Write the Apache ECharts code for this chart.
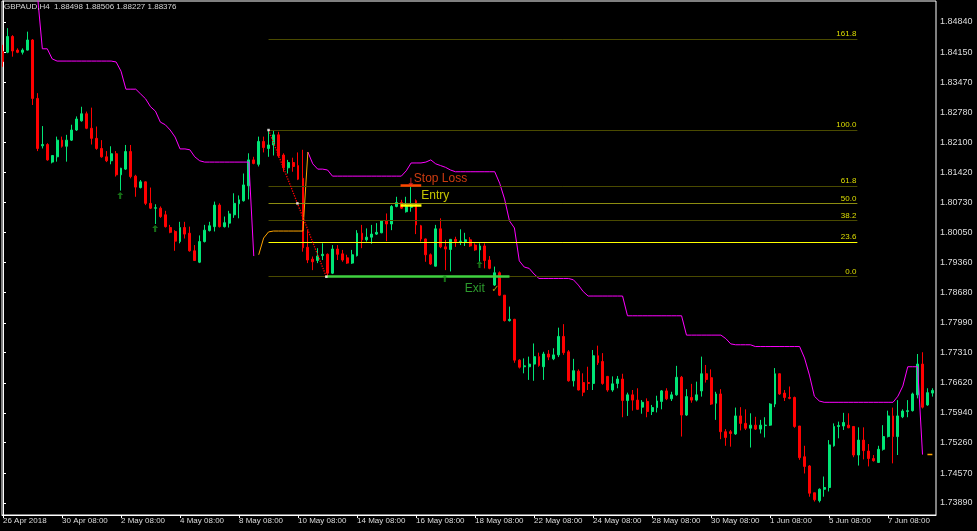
<!DOCTYPE html>
<html><head><meta charset="utf-8">
<script src="https://cdn.jsdelivr.net/npm/echarts@6/dist/echarts.min.js"></script>
<style>html,body{margin:0;padding:0;background:#000;}#chart{width:977px;height:531px;}</style>
</head><body><div id="chart"></div>
<script>
// ---- DATA (GBPAUD H4, bar index 0 = 26 Apr 2018 08:00) ----
const opens = [
1.8417,1.8415,1.8451,1.8420,1.8415,1.8420,1.8443,1.8310,1.8202,1.8205,
1.8165,1.8177,1.8215,1.8201,1.8215,1.8238,1.8259,1.8275,1.8242,1.8219,
1.8196,1.8177,1.8168,1.8184,1.8136,1.8149,1.8189,1.8133,1.8107,1.8120,
1.8071,1.8060,1.8060,1.8045,1.8016,1.8007,1.7984,1.8016,1.8003,1.7963,
1.7937,1.7984,1.8009,1.8018,1.8067,1.8018,1.8026,1.8045,1.8070,1.8077,
1.8111,1.8170,1.8160,1.8212,1.8196,1.8204,1.8227,1.8181,1.8152,1.8164,
1.8157,1.8128,1.7971,1.7944,1.7941,1.7952,1.7955,1.7912,1.7967,1.7956,
1.7947,1.7935,1.7952,1.8003,1.7988,1.7994,1.8001,1.8004,1.8031,1.8024,
1.8064,1.8073,1.8052,1.8062,1.8077,1.8020,1.7990,1.7954,1.7928,1.8013,
1.7972,1.7966,1.7989,1.7984,1.7984,1.7988,1.7976,1.7965,1.7974,1.7942,
1.7885,1.7913,1.7862,1.7804,1.7807,1.7714,1.7699,1.7699,1.7705,1.7722,
1.7699,1.7728,1.7717,1.7726,1.7768,1.7733,1.7667,1.7689,1.7663,1.7663,
1.7661,1.7724,1.7711,1.7677,1.7646,1.7661,1.7671,1.7622,1.7635,1.7623,
1.7607,1.7620,1.7597,1.7606,1.7620,1.7644,1.7626,1.7635,1.7675,1.7589,
1.7629,1.7623,1.7644,1.7683,1.7674,1.7616,1.7637,1.7551,1.7551,1.7546,
1.7587,1.7570,1.7559,1.7566,1.7557,1.7565,1.7566,1.7614,1.7683,1.7639,
1.7629,1.7629,1.7564,1.7494,1.7473,1.7412,1.7394,1.7420,1.7424,1.7519,
1.7563,1.7564,1.7566,1.7563,1.7498,1.7532,1.7507,1.7490,1.7481,1.7511,
1.7540,1.7587,1.7540,1.7585,1.7597,1.7599,1.7635,1.7705,1.7612,1.7639];
const highs = [
1.8432,1.8470,1.8454,1.8424,1.8424,1.8462,1.8445,1.8322,1.8247,1.8208,
1.8180,1.8223,1.8223,1.8227,1.8250,1.8269,1.8291,1.8280,1.8289,1.8246,
1.8215,1.8190,1.8201,1.8190,1.8152,1.8204,1.8204,1.8136,1.8124,1.8121,
1.8107,1.8069,1.8064,1.8054,1.8022,1.8010,1.8029,1.8029,1.8018,1.7976,
1.7998,1.8022,1.8029,1.8075,1.8071,1.8041,1.8054,1.8094,1.8089,1.8139,
1.8185,1.8177,1.8223,1.8223,1.8238,1.8236,1.8234,1.8185,1.8170,1.8175,
1.8187,1.8193,1.8010,1.7950,1.7969,1.7980,1.7957,1.7976,1.7976,1.7965,
1.7954,1.7965,1.8010,1.8022,1.8014,1.8022,1.8026,1.8033,1.8048,1.8067,
1.8086,1.8079,1.8086,1.8111,1.8080,1.8022,1.7991,1.7957,1.8022,1.8037,
1.7988,1.7990,1.7995,1.8012,1.8004,1.7994,1.7980,1.7980,1.7980,1.7951,
1.7927,1.7916,1.7862,1.7836,1.7808,1.7716,1.7718,1.7722,1.7752,1.7731,
1.7733,1.7737,1.7741,1.7788,1.7796,1.7737,1.7717,1.7693,1.7684,1.7699,
1.7737,1.7747,1.7730,1.7678,1.7677,1.7678,1.7683,1.7640,1.7646,1.7650,
1.7623,1.7627,1.7612,1.7633,1.7646,1.7650,1.7642,1.7701,1.7678,1.7648,
1.7660,1.7665,1.7722,1.7703,1.7693,1.7642,1.7648,1.7557,1.7555,1.7606,
1.7607,1.7602,1.7593,1.7585,1.7578,1.7584,1.7616,1.7696,1.7684,1.7646,
1.7654,1.7631,1.7564,1.7519,1.7475,1.7412,1.7422,1.7449,1.7532,1.7570,
1.7574,1.7594,1.7593,1.7564,1.7561,1.7561,1.7523,1.7498,1.7519,1.7566,
1.7599,1.7606,1.7623,1.7602,1.7623,1.7640,1.7728,1.7732,1.7650,1.7650];
const lows = [
1.8382,1.8413,1.8405,1.8413,1.8410,1.8419,1.8295,1.8190,1.8196,1.8168,
1.8162,1.8166,1.8198,1.8166,1.8213,1.8236,1.8257,1.8240,1.8205,1.8193,
1.8175,1.8165,1.8160,1.8132,1.8100,1.8147,1.8128,1.8086,1.8105,1.8067,
1.8058,1.8024,1.8038,1.8016,1.8003,1.7963,1.7980,1.7991,1.7961,1.7940,
1.7935,1.7982,1.8007,1.8007,1.8016,1.8016,1.8016,1.8038,1.8037,1.8075,
1.8080,1.8160,1.8155,1.8187,1.8177,1.8180,1.8175,1.8143,1.8139,1.8143,
1.8124,1.7961,1.7935,1.7919,1.7935,1.7942,1.7904,1.7910,1.7942,1.7938,
1.7933,1.7933,1.7950,1.7969,1.7984,1.7979,1.7999,1.8003,1.7985,1.8010,
1.8062,1.8058,1.8050,1.8052,1.8001,1.7984,1.7938,1.7931,1.7927,1.7969,
1.7919,1.7916,1.7972,1.7976,1.7974,1.7972,1.7963,1.7938,1.7923,1.7921,
1.7883,1.7860,1.7802,1.7802,1.7708,1.7695,1.7684,1.7669,1.7667,1.7699,
1.7669,1.7714,1.7714,1.7721,1.7726,1.7665,1.7654,1.7645,1.7632,1.7646,
1.7646,1.7703,1.7658,1.7642,1.7642,1.7650,1.7584,1.7587,1.7599,1.7601,
1.7592,1.7584,1.7589,1.7595,1.7602,1.7623,1.7621,1.7633,1.7540,1.7587,
1.7617,1.7620,1.7631,1.7663,1.7612,1.7578,1.7534,1.7519,1.7517,1.7544,
1.7554,1.7555,1.7515,1.7555,1.7547,1.7538,1.7564,1.7607,1.7635,1.7621,
1.7625,1.7560,1.7487,1.7456,1.7403,1.7392,1.7390,1.7403,1.7415,1.7517,
1.7536,1.7555,1.7559,1.7493,1.7474,1.7488,1.7472,1.7483,1.7481,1.7508,
1.7538,1.7479,1.7498,1.7582,1.7584,1.7597,1.7627,1.7604,1.7610,1.7631];
const closes = [
1.8394,1.8451,1.8418,1.8415,1.8420,1.8443,1.8310,1.8196,1.8205,1.8170,
1.8180,1.8215,1.8201,1.8215,1.8238,1.8263,1.8275,1.8242,1.8219,1.8196,
1.8177,1.8168,1.8184,1.8136,1.8151,1.8189,1.8132,1.8108,1.8120,1.8071,
1.8060,1.8061,1.8041,1.8018,1.8005,1.7985,1.8016,1.8001,1.7963,1.7941,
1.7984,1.8010,1.8020,1.8067,1.8018,1.8027,1.8047,1.8071,1.8079,1.8113,
1.8170,1.8162,1.8212,1.8198,1.8204,1.8227,1.8179,1.8152,1.8164,1.8155,
1.8126,1.7970,1.7942,1.7938,1.7951,1.7955,1.7912,1.7967,1.7955,1.7942,
1.7935,1.7954,1.8003,1.7988,1.7994,1.8001,1.8005,1.8031,1.8024,1.8064,
1.8073,1.8060,1.8064,1.8067,1.8022,1.7990,1.7954,1.7933,1.8013,1.7972,
1.7967,1.7989,1.7984,1.7985,1.7988,1.7974,1.7965,1.7974,1.7941,1.7923,
1.7913,1.7862,1.7804,1.7807,1.7714,1.7698,1.7701,1.7705,1.7722,1.7702,
1.7728,1.7721,1.7726,1.7768,1.7731,1.7667,1.7690,1.7646,1.7641,1.7661,
1.7724,1.7708,1.7661,1.7646,1.7660,1.7671,1.7622,1.7635,1.7623,1.7602,
1.7618,1.7597,1.7606,1.7621,1.7644,1.7626,1.7635,1.7675,1.7589,1.7631,
1.7623,1.7635,1.7683,1.7670,1.7614,1.7637,1.7551,1.7538,1.7547,1.7587,
1.7570,1.7559,1.7566,1.7557,1.7566,1.7566,1.7614,1.7683,1.7637,1.7629,
1.7627,1.7563,1.7492,1.7472,1.7411,1.7396,1.7420,1.7424,1.7521,1.7563,
1.7565,1.7572,1.7560,1.7498,1.7532,1.7508,1.7490,1.7485,1.7511,1.7540,
1.7587,1.7540,1.7587,1.7598,1.7599,1.7637,1.7705,1.7607,1.7640,1.7645];
// trailing stop (resistance, magenta), one value per bar
const resistanceLine = [
null,null,null,null,null,null,null,1.8546,1.8423,1.8423,
1.8400,1.8395,1.8395,1.8395,1.8395,1.8395,1.8395,1.8395,1.8395,1.8395,
1.8395,1.8395,1.8395,1.8393,1.8372,1.8331,1.8331,1.8331,1.8320,1.8309,
1.8291,1.8281,1.8256,1.8250,1.8238,1.8222,1.8195,1.8195,1.8193,1.8177,
1.8168,1.8165,1.8165,1.8165,1.8165,1.8165,1.8165,1.8165,1.8165,1.8165,
1.8165,1.7951,null,null,null,null,null,null,null,null,
null,null,1.8188,1.8161,1.8149,1.8149,1.8147,1.8133,1.8133,1.8133,
1.8133,1.8133,1.8133,1.8133,1.8133,1.8133,1.8133,1.8133,1.8133,1.8133,
1.8133,1.8133,1.8145,1.8163,1.8163,1.8163,1.8165,1.8170,1.8161,1.8157,
1.8153,1.8147,1.8143,1.8143,1.8143,1.8143,1.8143,1.8143,1.8143,1.8143,
1.8143,1.8117,1.8081,1.8031,1.8015,1.7940,1.7926,1.7923,1.7910,1.7900,
1.7900,1.7900,1.7900,1.7900,1.7900,1.7900,1.7897,1.7885,1.7870,1.7860,
1.7860,1.7860,1.7860,1.7860,1.7860,1.7860,1.7860,1.7815,1.7815,1.7815,
1.7815,1.7815,1.7815,1.7815,1.7815,1.7815,1.7815,1.7815,1.7815,1.7771,
1.7771,1.7771,1.7771,1.7771,1.7771,1.7771,1.7771,1.7763,1.7751,1.7749,
1.7749,1.7749,1.7749,1.7745,1.7745,1.7745,1.7745,1.7745,1.7745,1.7745,
1.7745,1.7745,1.7745,1.7719,1.7680,1.7632,1.7621,1.7618,1.7618,1.7618,
1.7618,1.7618,1.7618,1.7618,1.7618,1.7618,1.7618,1.7618,1.7618,1.7618,
1.7618,1.7618,1.7632,1.7655,1.7699,1.7699,1.7699,1.7499,null,null];
// trailing stop (support, orange): [bar, price]
const supportSegA = [[52,1.7954],[53,1.7992],[54,1.8006],[55,1.8008],[56,1.8008],[57,1.8008],[58,1.8008],[59,1.8008],[60,1.8008],[61,1.8008],[62,1.8188]];
const supportSegB = [[188,1.7499],[189,1.7499]];
// axes
const tickBars = [0,12,24,36,48,60,72,84,96,108,120,132,144,156,168,180];
const tickLabels = ['26 Apr 2018','30 Apr 08:00','2 May 08:00','4 May 08:00','8 May 08:00','10 May 08:00','14 May 08:00','16 May 08:00','18 May 08:00','22 May 08:00','24 May 08:00','28 May 08:00','30 May 08:00','1 Jun 08:00','5 Jun 08:00','7 Jun 08:00'];
const priceTicks = [1.84840,1.84150,1.83470,1.82780,1.82100,1.81420,1.80730,1.80050,1.79360,1.78680,1.77990,1.77310,1.76620,1.75940,1.75260,1.74570,1.73890];
// fibonacci retracement
const fibLabels = ['0.0','23.6','38.2','50.0','61.8','100.0','161.8'];
const fibPrices = [1.7904,1.7983,1.8032,1.8071,1.8110,1.8238,1.8445];
const fibBars = [54, 173.75];
const fibAnchors = [[54,1.8238],[59.875,1.8071],[65.75,1.7904]];
// trade objects
const tradeNames = ['Stop Loss','Entry','Exit'];
const tradePrices = [1.8112, 1.8066, 1.7904];
const tradeBars = [[80.85,85.05],[80.85,85.1],[65.75,103]];
const tradeLabelAt = [[83.55,1.8127],[85.06,1.8088],[93.9,1.7877]];
const upArrows = [[23.83,1.8089],[30.94,1.8014],[89.85,1.7900],[96.9,1.7932]];
const downArrows = [[82.95,1.8120]];
const checkMarks = [[99.3,1.7874]];
const titleText = 'GBPAUD,H4  1.88498 1.88506 1.88227 1.88376';

// ---- CHART ----
const FONT = 'Liberation Sans, Arial, sans-serif';
const fibColors = ['#4a4a00','#ffff00','#4a4a00','#8c8c10','#4a4a00','#4a4a00','#4a4a00'];
const tradeColors = ['#ff4500','#ffff00','#3fd13f'];
const tradeTextColors = ['#ff4a14','#f4f400','#38c038'];

const candleData = opens.map((o, i) => [i, o, closes[i], lows[i], highs[i]]);
const chart = echarts.init(document.getElementById('chart'), null, {renderer: 'canvas'});

const fibMarks = fibPrices.map((p, k) => [
  {coord: [fibBars[0], p], lineStyle: {color: fibColors[k], width: 1, type: 'solid'},
   label: {show: true, position: 'insideEndTop', distance: 1, formatter: fibLabels[k], color: '#dede00', fontSize: 8, fontFamily: FONT, padding: 0}},
  {coord: [fibBars[1], p]}
]);
const diagMark = [[
  {coord: fibAnchors[0], lineStyle: {color: '#ff0000', width: 1.3, type: 'dotted'}, label: {show: false}},
  {coord: fibAnchors[2]}
]];
const tradeMarks = tradePrices.map((p, k) => [
  {coord: [tradeBars[k][0], p], lineStyle: {color: tradeColors[k], width: 2.5, type: 'solid'}, label: {show: false}},
  {coord: [tradeBars[k][1], p]}
]);

const option = {
  backgroundColor: '#000000',
  animation: false,
  title: {text: titleText, left: 4, top: 3, padding: 0,
    textStyle: {color: '#d4d4d4', fontSize: 8, fontWeight: 'normal', fontFamily: FONT}},
  grid: {left: 1, right: 41, top: 1, bottom: 16, show: true, borderColor: '#ffffff', borderWidth: 1, backgroundColor: '#000'},
  xAxis: {
    type: 'value', min: -0.2, max: 189.74, splitLine: {show: false},
    axisLine: {show: true, onZero: false, lineStyle: {color: '#ffffff', width: 1}},
    axisTick: {show: true, customValues: tickBars, length: 3, lineStyle: {color: '#ffffff'}},
    axisLabel: {customValues: tickBars, formatter: v => tickLabels[tickBars.indexOf(v)],
      align: 'left', color: '#dcdcdc', fontSize: 8, fontFamily: FONT, margin: 2}
  },
  yAxis: {
    type: 'value', position: 'right', min: 1.73614, max: 1.85318, scale: true,
    splitLine: {show: false},
    axisLine: {show: true, lineStyle: {color: '#ffffff', width: 1}},
    axisTick: {show: true, customValues: priceTicks, length: 3, lineStyle: {color: '#ffffff'}},
    axisLabel: {customValues: priceTicks, formatter: v => v.toFixed(5),
      color: '#dcdcdc', fontSize: 9, fontFamily: FONT, margin: 4}
  },
  series: [
    {
      type: 'candlestick', data: candleData, encode: {x: 0, y: [1, 2, 3, 4]},
      barWidth: 2.4, silent: true, z: 2,
      itemStyle: {color: '#00e676', color0: '#ff0000', borderColor: '#00e676', borderColor0: '#ff0000', borderWidth: 1}
    },
    {
      type: 'line', data: [], silent: true, z: 3,
      markLine: {symbol: 'none', silent: true, animation: false, data: fibMarks.concat(tradeMarks)}
    },
    {
      type: 'line', data: [], silent: true, z: 3,
      markLine: {symbol: 'none', silent: true, animation: false, data: diagMark}
    },
    {
      type: 'line', data: resistanceLine.map((v, i) => [i, v]), showSymbol: false, silent: true, z: 4,
      connectNulls: false, lineStyle: {color: '#ff00ff', width: 1}
    },
    {
      type: 'line', data: supportSegA, showSymbol: false, silent: true, z: 4,
      lineStyle: {color: '#ffa500', width: 1}
    },
    {
      type: 'line', data: supportSegB, showSymbol: false, silent: true, z: 4,
      lineStyle: {color: '#ffa500', width: 1.5}
    },
    {
      type: 'scatter', data: fibAnchors, symbol: 'rect', symbolSize: 2.5, silent: true, z: 5,
      itemStyle: {color: '#ffffff'}
    },
    {
      type: 'scatter', data: upArrows, symbol: 'path://M3,0 L6,3 L4,3 L4,7 L2,7 L2,3 L0,3 Z',
      symbolSize: [6, 7], silent: true, z: 5, itemStyle: {color: '#1c8c1c'}
    },
    {
      type: 'scatter', data: downArrows, symbol: 'path://M2,0 L3,0 L3,6 L5,6 L2.5,9 L0,6 L2,6 Z',
      symbolSize: [5, 8], silent: true, z: 5, itemStyle: {color: '#ff2a2a'}
    },
    {
      type: 'scatter', symbolSize: 0, silent: true, z: 6,
      data: tradeLabelAt.map((p, k) => ({value: p, name: tradeNames[k], label: {color: tradeTextColors[k]}})),
      label: {show: true, position: 'right', distance: 0, formatter: '{b}', fontSize: 12, fontFamily: FONT}
    },
    {
      type: 'scatter', symbolSize: 0, silent: true, z: 6, data: checkMarks,
      label: {show: true, position: 'right', distance: 0, formatter: '\u2713', fontSize: 10, color: '#d8b400', fontFamily: 'DejaVu Sans'}
    }
  ]
};
chart.setOption(option);
</script>
</body></html>
